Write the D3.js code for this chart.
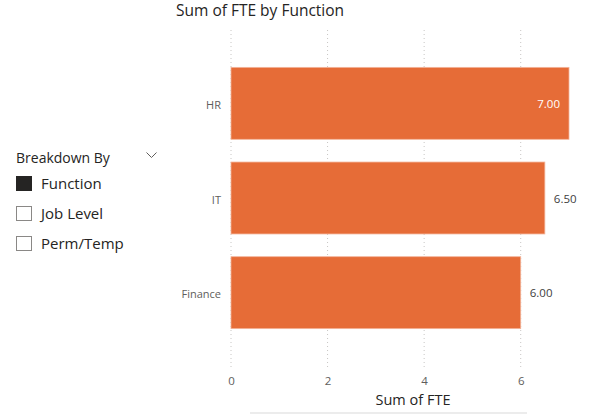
<!DOCTYPE html>
<html>
<head>
<meta charset="utf-8">
<script src="https://cdn.jsdelivr.net/npm/d3@7"></script>
<style>
  html, body { margin: 0; padding: 0; background: #fff; }
  svg { display: block; font-family: "Segoe UI", "Open Sans", sans-serif; }
</style>
</head>
<body>
<div id="chart"></div>
<script>
const categories = ['HR', 'IT', 'Finance'];
const fteValues = [7.0, 6.5, 6.0];
const xTicks = [0, 2, 4, 6];
const slicerTitle = 'Breakdown By';
const slicerOptions = ['Function', 'Job Level', 'Perm/Temp'];
const selectedOption = 'Function';

const W = 600, H = 414;
const PLOT = { LEFT: 231, TOP: 30, BOTTOM: 368, RIGHT: 569 };
const BAR_COLOR = '#E66C37';

const data = categories.map((c, i) => ({ name: c, value: fteValues[i] }));

const svg = d3.select('#chart')
   .append('svg')
   .attr('width', W)
   .attr('height', H);

// title
svg.append('text')
   .attr('x', 176)
   .attr('y', 15.5)
   .attr('font-size', 15.5)
   .attr('fill', '#252423')
   .text('Sum of FTE by Function');

const x = d3.scaleLinear()
   .domain([0, 7])
   .range([PLOT.LEFT, PLOT.RIGHT]);

const y = d3.scaleBand()
   .domain(categories)
   .range([56, 340])
   .paddingInner(0.24)
   .paddingOuter(0.12);

// dotted gridlines
svg.append('g')
   .selectAll('line')
   .data(xTicks)
   .join('line')
   .attr('x1', d => x(d))
   .attr('x2', d => x(d))
   .attr('y1', PLOT.TOP)
   .attr('y2', PLOT.BOTTOM)
   .attr('stroke', '#c8c6c4')
   .attr('stroke-width', 1)
   .attr('stroke-dasharray', '1,3');

// x axis (labels only)
const xAxis = svg.append('g')
   .attr('transform', `translate(0,${PLOT.BOTTOM})`)
   .call(d3.axisBottom(x).tickValues(xTicks).tickSize(0).tickPadding(9).tickFormat(d3.format('d')));
xAxis.select('.domain').remove();
xAxis.selectAll('text')
   .attr('font-size', 11.5)
   .attr('font-family', '"Segoe UI", "Open Sans", sans-serif')
   .attr('fill', '#605E5C');

svg.append('text')
   .attr('x', 413)
   .attr('y', 405)
   .attr('text-anchor', 'middle')
   .attr('font-size', 14.5)
   .attr('fill', '#252423')
   .text('Sum of FTE');

// y axis (labels only)
const yAxis = svg.append('g')
   .attr('transform', `translate(${PLOT.LEFT},0)`)
   .call(d3.axisLeft(y).tickSize(0).tickPadding(10));
yAxis.select('.domain').remove();
yAxis.selectAll('text')
   .attr('font-size', 11)
   .attr('dy', '0.5em')
   .attr('font-family', '"Segoe UI", "Open Sans", sans-serif')
   .attr('fill', '#605E5C');

// bars
svg.append('g')
   .selectAll('rect')
   .data(data)
   .join('rect')
   .attr('x', x(0))
   .attr('y', d => y(d.name))
   .attr('width', d => x(d.value) - x(0))
   .attr('height', y.bandwidth())
   .attr('fill', BAR_COLOR)
   .attr('stroke', '#f3b49a')
   .attr('stroke-width', 0.8);

// data labels
const fmt = d3.format('.2f');
const inside = d => x(d.value) + 45 > W - 10;
svg.append('g')
   .selectAll('text')
   .data(data)
   .join('text')
   .attr('x', d => inside(d) ? x(d.value) - 9 : x(d.value) + 9)
   .attr('y', d => y(d.name) + y.bandwidth() / 2)
   .attr('dy', '0.4em')
   .attr('text-anchor', d => inside(d) ? 'end' : 'start')
   .attr('font-size', 11.5)
   .attr('fill', d => inside(d) ? '#ffffff' : '#404040')
   .text(d => fmt(d.value));

// faint scroll line at the bottom
svg.append('line')
   .attr('x1', 250).attr('x2', 527)
   .attr('y1', 413).attr('y2', 413)
   .attr('stroke', '#e6e6e6')
   .attr('stroke-width', 1.5);

// slicer
const slicer = svg.append('g');
slicer.append('text')
   .attr('x', 16)
   .attr('y', 163)
   .attr('font-size', 14)
   .attr('fill', '#252423')
   .text(slicerTitle);

slicer.append('path')
   .attr('d', 'M146.5,152.5 L151.5,157.5 L156.5,152.5')
   .attr('fill', 'none')
   .attr('stroke', '#605E5C')
   .attr('stroke-width', 1);

const items = slicer.selectAll('g.item')
   .data(slicerOptions)
   .join('g')
   .attr('class', 'item')
   .attr('transform', (d, i) => `translate(16,${176 + i * 30})`);

items.append('rect')
   .attr('x', 0.5)
   .attr('y', 0.5)
   .attr('width', 15)
   .attr('height', 14)
   .attr('fill', d => d === selectedOption ? '#252423' : '#fff')
   .attr('stroke', d => d === selectedOption ? '#252423' : '#8a8886')
   .attr('stroke-width', 1);

items.append('text')
   .attr('x', 25)
   .attr('y', 13)
   .attr('font-size', 15)
   .attr('fill', '#252423')
   .text(d => d);
</script>
</body>
</html>
